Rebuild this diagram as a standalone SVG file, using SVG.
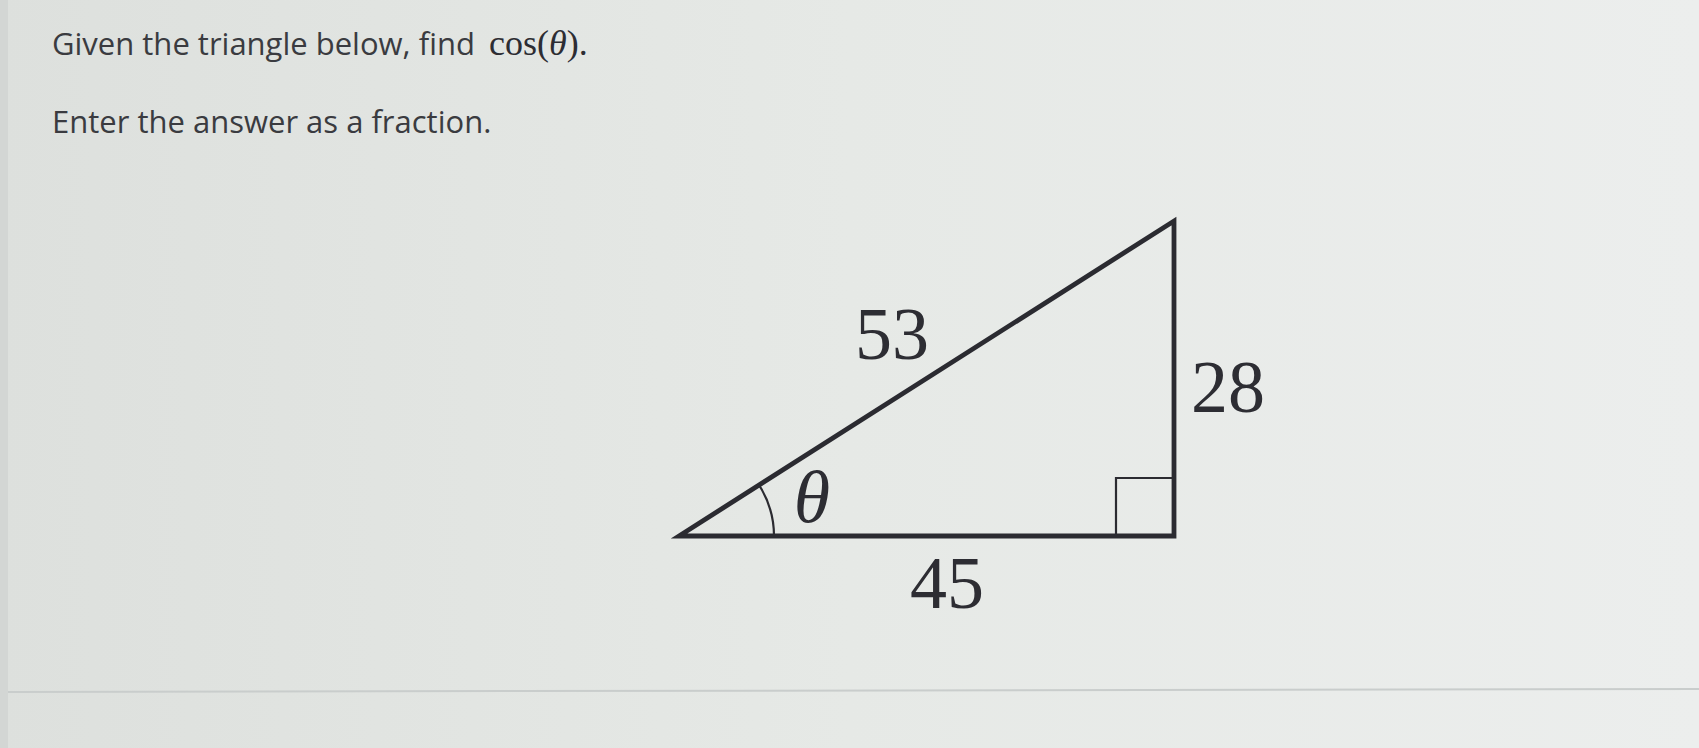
<svg xmlns="http://www.w3.org/2000/svg" width="1699" height="748" viewBox="0 0 1699 748">
<defs>
<linearGradient id="bg" x1="0" y1="0" x2="1" y2="0">
<stop offset="0" stop-color="#dde0dd"/>
<stop offset="0.5" stop-color="#e6e9e6"/>
<stop offset="1" stop-color="#eceeed"/>
</linearGradient>
<style>
.q{font-family:"Open Sans","Liberation Sans",sans-serif;font-size:31px;fill:#3a3b40}
.m{font-family:"Liberation Serif","DejaVu Serif",serif;fill:#2d2d33}
.edge{stroke:#2b2b31;stroke-width:4.8;fill:none;stroke-linejoin:miter}
.thin{stroke:#2b2b31;stroke-width:2.2;fill:none}
.lbl{font-family:"Liberation Serif","DejaVu Serif",serif;font-size:74px;fill:#2d2d33;text-anchor:middle}
</style>
</defs>
<rect width="1699" height="748" fill="url(#bg)"/>
<rect x="0" y="0" width="8" height="748" fill="#d3d6d4"/>
<line x1="8" y1="692" x2="1699" y2="689" stroke="#c9cdcc" stroke-width="2"/>
<g id="question">
<text class="q" x="52" y="55">Given the triangle below, find <tspan class="m" font-size="36" dx="6">cos(<tspan font-style="italic">θ</tspan>).</tspan></text>
<text class="q" x="52" y="133">Enter the answer as a fraction.</text>
</g>
<g id="triangle">
<polygon class="edge" points="679,536 1174,536 1174,221"/>
<polyline class="thin" points="1116,536 1116,478 1174,478"/>
<path class="thin" d="M774,536 A95,95 0 0 0 759,485"/>
</g>
<g id="labels">
<text class="lbl" x="892" y="359">53</text>
<text class="lbl" x="1228" y="412">28</text>
<text class="lbl" x="947" y="608">45</text>
<text class="lbl" x="812" y="522" font-style="italic" font-size="66">θ</text>
</g>
</svg>
